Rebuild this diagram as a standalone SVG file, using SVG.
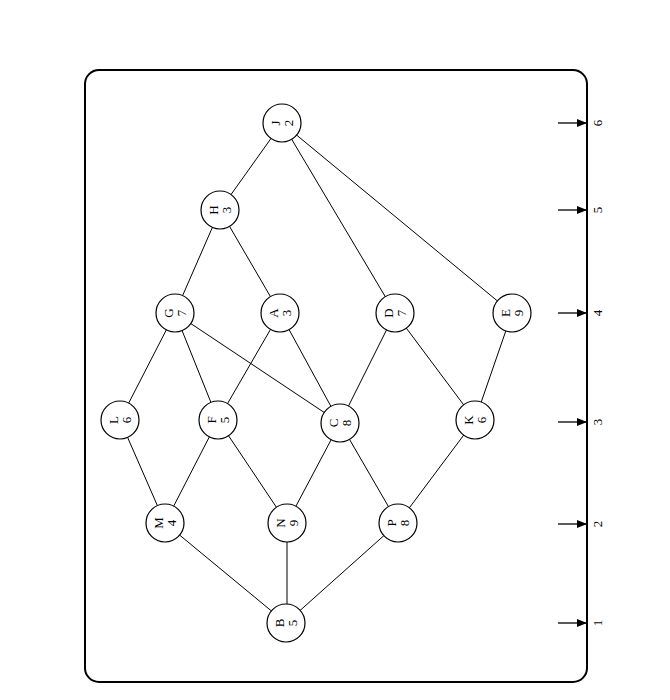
<svg xmlns="http://www.w3.org/2000/svg" width="670" height="700" viewBox="0 0 670 700">
<defs>
<marker id="ah" markerWidth="10" markerHeight="8" refX="10" refY="4" orient="auto" markerUnits="userSpaceOnUse">
<path d="M0,0 L10,4 L0,8 Z" fill="#000"/>
</marker>
<style>
.n circle{fill:#fff;stroke:#000;stroke-width:1.2}
.n text,.lv text{font-family:"Liberation Serif",serif;font-size:13px;text-anchor:middle;fill:#000}
.e line{stroke:#000;stroke-width:1}
.lv line{stroke:#000;stroke-width:1.3}
</style>
</defs>
<rect width="670" height="700" fill="#fff"/>
<rect x="85" y="70" width="502" height="612" rx="14" fill="none" stroke="#000" stroke-width="2"/>
<g class="e" id="connectors">
<line x1="282" y1="123" x2="220" y2="210"/>
<line x1="282" y1="123" x2="395" y2="313"/>
<line x1="282" y1="123" x2="512" y2="313"/>
<line x1="220" y1="210" x2="175" y2="313"/>
<line x1="220" y1="210" x2="280" y2="313"/>
<line x1="175" y1="313" x2="120" y2="420"/>
<line x1="175" y1="313" x2="218" y2="420"/>
<line x1="175" y1="313" x2="340" y2="423"/>
<line x1="280" y1="313" x2="218" y2="420"/>
<line x1="280" y1="313" x2="340" y2="423"/>
<line x1="395" y1="313" x2="340" y2="423"/>
<line x1="395" y1="313" x2="475" y2="420"/>
<line x1="512" y1="313" x2="475" y2="420"/>
<line x1="120" y1="420" x2="165" y2="523"/>
<line x1="218" y1="420" x2="165" y2="523"/>
<line x1="218" y1="420" x2="287" y2="523"/>
<line x1="340" y1="423" x2="287" y2="523"/>
<line x1="340" y1="423" x2="398" y2="523"/>
<line x1="475" y1="420" x2="398" y2="523"/>
<line x1="165" y1="523" x2="286" y2="623"/>
<line x1="287" y1="523" x2="287" y2="623"/>
<line x1="398" y1="523" x2="286" y2="623"/>
</g>
<g class="n" id="J" transform="translate(282,123)"><circle r="19"/><g transform="rotate(-90)"><text x="0" y="-2">J</text><text x="0" y="11">2</text></g></g>
<g class="n" id="H" transform="translate(220,210)"><circle r="19"/><g transform="rotate(-90)"><text x="0" y="-2">H</text><text x="0" y="11">3</text></g></g>
<g class="n" id="G" transform="translate(175,313)"><circle r="19"/><g transform="rotate(-90)"><text x="0" y="-2">G</text><text x="0" y="11">7</text></g></g>
<g class="n" id="A" transform="translate(280,313)"><circle r="19"/><g transform="rotate(-90)"><text x="0" y="-2">A</text><text x="0" y="11">3</text></g></g>
<g class="n" id="D" transform="translate(395,313)"><circle r="19"/><g transform="rotate(-90)"><text x="0" y="-2">D</text><text x="0" y="11">7</text></g></g>
<g class="n" id="E" transform="translate(512,313)"><circle r="19"/><g transform="rotate(-90)"><text x="0" y="-2">E</text><text x="0" y="11">9</text></g></g>
<g class="n" id="L" transform="translate(120,420)"><circle r="19"/><g transform="rotate(-90)"><text x="0" y="-2">L</text><text x="0" y="11">6</text></g></g>
<g class="n" id="F" transform="translate(218,420)"><circle r="19"/><g transform="rotate(-90)"><text x="0" y="-2">F</text><text x="0" y="11">5</text></g></g>
<g class="n" id="C" transform="translate(340,423)"><circle r="19"/><g transform="rotate(-90)"><text x="0" y="-2">C</text><text x="0" y="11">8</text></g></g>
<g class="n" id="K" transform="translate(475,420)"><circle r="19"/><g transform="rotate(-90)"><text x="0" y="-2">K</text><text x="0" y="11">6</text></g></g>
<g class="n" id="M" transform="translate(165,523)"><circle r="19"/><g transform="rotate(-90)"><text x="0" y="-2">M</text><text x="0" y="11">4</text></g></g>
<g class="n" id="N" transform="translate(287,523)"><circle r="19"/><g transform="rotate(-90)"><text x="0" y="-2">N</text><text x="0" y="11">9</text></g></g>
<g class="n" id="P" transform="translate(398,523)"><circle r="19"/><g transform="rotate(-90)"><text x="0" y="-2">P</text><text x="0" y="11">8</text></g></g>
<g class="n" id="B" transform="translate(286,623)"><circle r="19"/><g transform="rotate(-90)"><text x="0" y="-2">B</text><text x="0" y="11">5</text></g></g>
<g class="lv" id="levels">
<line x1="558" y1="123" x2="587" y2="123" marker-end="url(#ah)"/>
<line x1="558" y1="210" x2="587" y2="210" marker-end="url(#ah)"/>
<line x1="558" y1="313" x2="587" y2="313" marker-end="url(#ah)"/>
<line x1="558" y1="422" x2="587" y2="422" marker-end="url(#ah)"/>
<line x1="558" y1="524" x2="587" y2="524" marker-end="url(#ah)"/>
<line x1="558" y1="623" x2="587" y2="623" marker-end="url(#ah)"/>
<text transform="translate(602,123) rotate(-90)">6</text>
<text transform="translate(602,210) rotate(-90)">5</text>
<text transform="translate(602,313) rotate(-90)">4</text>
<text transform="translate(602,422) rotate(-90)">3</text>
<text transform="translate(602,524) rotate(-90)">2</text>
<text transform="translate(602,623) rotate(-90)">1</text>
</g>
</svg>
